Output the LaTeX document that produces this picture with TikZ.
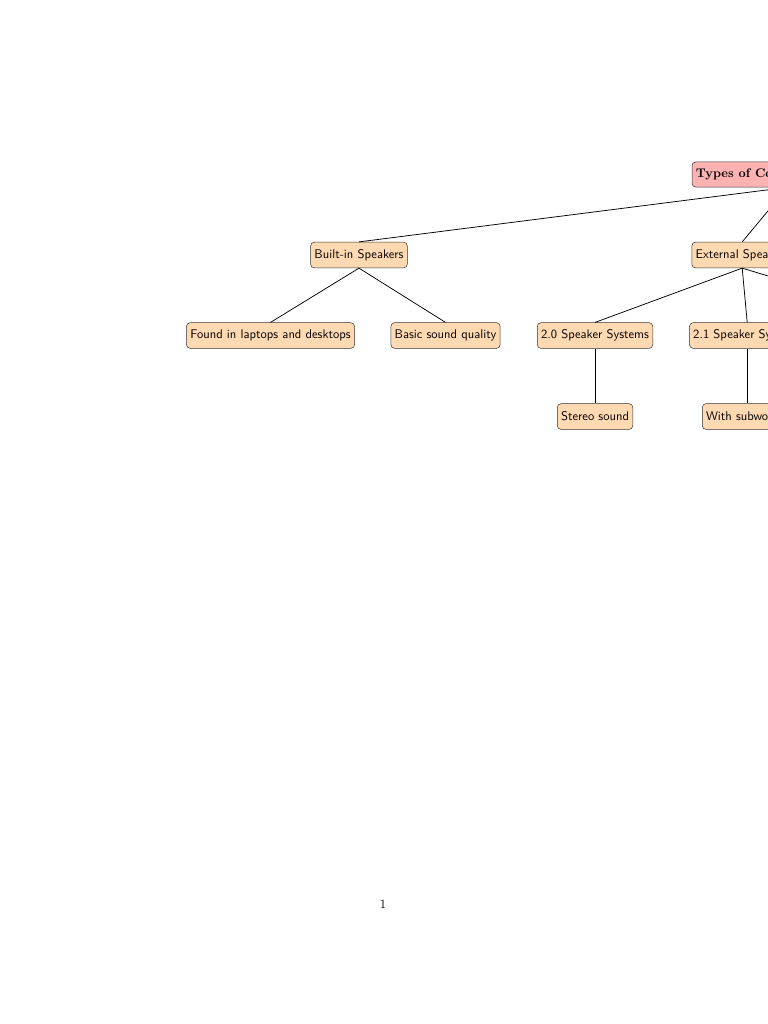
\documentclass[tikz,border=0pt]{standalone}
\usepackage{tikz}

\begin{document}
\begin{tikzpicture}[
  rootbox/.style={
    draw=black!80, rounded corners=3pt, fill=red!30,
    minimum height=20pt, inner sep=3pt, font=\bfseries
  },
  itembox/.style={
    draw=black!80, rounded corners=3pt, fill=orange!30,
    minimum height=20.5pt, inner sep=3pt, font=\sffamily
  },
  link/.style={line width=0.6pt, draw=black}
]
\useasboundingbox (0,0) rectangle (21.5,-28.67);
\node[rootbox] (root) at (22.05,-4.886) {Types of Computer Speakers};
\node[itembox] (builtin) at (10.05,-7.14) {Built-in Speakers};
\node[itembox] (external) at (20.78,-7.14) {External Speakers};
\node[itembox] (found) at (7.574,-9.394) {Found in laptops and desktops};
\node[itembox] (basic) at (12.474,-9.394) {Basic sound quality};
\node[itembox] (twozero) at (16.66,-9.394) {2.0 Speaker Systems};
\node[itembox] (twoone) at (20.92,-9.394) {2.1 Speaker Systems};
\coordinate (more) at (25.2,-8.85);
\node[itembox] (stereo) at (16.66,-11.662) {Stereo sound};
\node[itembox] (subwoofer) at (20.92,-11.662) {With subwoofer};
\draw[link] (root.south) -- (builtin.north);
\draw[link] (root.south) -- (external.north);
\draw[link] (builtin.south) -- (found.north);
\draw[link] (builtin.south) -- (basic.north);
\draw[link] (external.south) -- (twozero.north);
\draw[link] (external.south) -- (twoone.north);
\draw[link] (external.south) -- (more);
\draw[link] (twozero.south) -- (stereo.north);
\draw[link] (twoone.south) -- (subwoofer.north);
\node (pagenum) at (10.72,-25.31) {1};
\end{tikzpicture}
\end{document}
